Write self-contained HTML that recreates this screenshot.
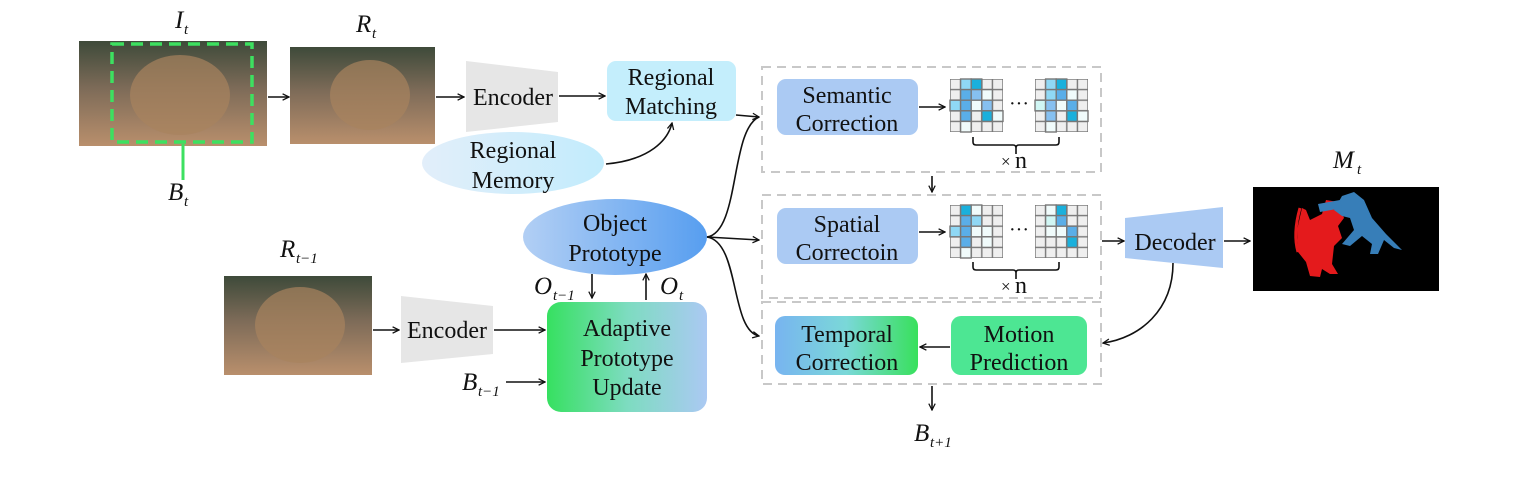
<!DOCTYPE html>
<html><head><meta charset="utf-8"><style>
html,body{margin:0;padding:0;background:#fff;}
svg{display:block;}
text{font-family:"Liberation Serif",serif;fill:#111;}
</style></head><body>
<svg width="1518" height="477" viewBox="0 0 1518 477" xmlns="http://www.w3.org/2000/svg">
<defs>
<marker id="ah" viewBox="0 0 10 10" refX="9" refY="5" markerWidth="8" markerHeight="8" orient="auto-start-reverse" markerUnits="userSpaceOnUse"><path d="M1,1 L9,5 L1,9" fill="none" stroke="#111" stroke-width="1.6"/></marker>
<linearGradient id="img" x1="0" y1="0" x2="0" y2="1"><stop offset="0" stop-color="#3e4a3a"/><stop offset="0.45" stop-color="#7d6b58"/><stop offset="1" stop-color="#b98f6c"/></linearGradient>
<linearGradient id="mem" x1="0" x2="1"><stop offset="0" stop-color="#e2eefa"/><stop offset="1" stop-color="#c2ecfc"/></linearGradient>
<linearGradient id="obj" x1="0" x2="1"><stop offset="0" stop-color="#b2cff4"/><stop offset="1" stop-color="#579ef0"/></linearGradient>
<linearGradient id="apu" x1="0" x2="1"><stop offset="0" stop-color="#36e060"/><stop offset="0.5" stop-color="#7ddcc0"/><stop offset="1" stop-color="#abc9f3"/></linearGradient>
<linearGradient id="tmp" x1="0" x2="1"><stop offset="0" stop-color="#78b4f0"/><stop offset="0.5" stop-color="#7ad8d8"/><stop offset="1" stop-color="#38e05c"/></linearGradient>
<pattern id="cell" x="0" y="0" width="10.6" height="10.6" patternUnits="userSpaceOnUse"><rect width="10.6" height="10.6" fill="#efefef" stroke="#777" stroke-width="1.4"/></pattern>
</defs>

<!-- I_t -->
<text x="175" y="28" font-size="25" font-style="italic">I</text><text x="184" y="34" font-size="15" font-style="italic">t</text>
<rect x="79" y="41" width="188" height="105" fill="url(#img)"/>
<ellipse cx="180" cy="95" rx="50" ry="40" fill="#a8835e" opacity="0.7"/>
<rect x="112" y="44" width="140" height="98" fill="none" stroke="#3de060" stroke-width="3.5" stroke-dasharray="12,7"/>
<line x1="183" y1="144" x2="183" y2="180" stroke="#3de060" stroke-width="3"/>
<text x="168" y="200" font-size="25" font-style="italic">B</text><text x="184" y="206" font-size="15" font-style="italic">t</text>
<line x1="268" y1="97" x2="289" y2="97" stroke="#111" stroke-width="1.6" marker-end="url(#ah)"/>

<!-- R_t -->
<text x="356" y="32" font-size="25" font-style="italic">R</text><text x="372" y="38" font-size="15" font-style="italic">t</text>
<rect x="290" y="47" width="145" height="97" fill="url(#img)"/>
<ellipse cx="370" cy="95" rx="40" ry="35" fill="#a8835e" opacity="0.7"/>
<line x1="436" y1="97" x2="464" y2="97" stroke="#111" stroke-width="1.6" marker-end="url(#ah)"/>

<!-- Encoder 1 -->
<polygon points="466,61 558,72 558,122 466,132" fill="#e6e6e6"/>
<text x="513" y="105" font-size="24" text-anchor="middle">Encoder</text>
<line x1="559" y1="96" x2="605" y2="96" stroke="#111" stroke-width="1.6" marker-end="url(#ah)"/>

<!-- Regional Matching -->
<rect x="607" y="61" width="129" height="60" rx="9" fill="#c4eefc"/>
<text x="671" y="85" font-size="24" text-anchor="middle">Regional</text>
<text x="671" y="114" font-size="24" text-anchor="middle">Matching</text>

<!-- Regional Memory -->
<ellipse cx="513" cy="163" rx="91" ry="31" fill="url(#mem)"/>
<text x="513" y="158" font-size="24" text-anchor="middle">Regional</text>
<text x="513" y="188" font-size="24" text-anchor="middle">Memory</text>
<path d="M606,164 C650,160 668,140 672,123" fill="none" stroke="#111" stroke-width="1.6" marker-end="url(#ah)"/>

<!-- Object Prototype -->
<ellipse cx="615" cy="237" rx="92" ry="38" fill="url(#obj)"/>
<text x="615" y="231" font-size="24" text-anchor="middle">Object</text>
<text x="615" y="261" font-size="24" text-anchor="middle">Prototype</text>

<text x="534" y="294" font-size="25" font-style="italic">O</text><text x="553" y="300" font-size="15" font-style="italic">t−1</text>
<line x1="592" y1="274" x2="592" y2="298" stroke="#111" stroke-width="1.6" marker-end="url(#ah)"/>
<line x1="646" y1="300" x2="646" y2="274" stroke="#111" stroke-width="1.6" marker-end="url(#ah)"/>
<text x="660" y="294" font-size="25" font-style="italic">O</text><text x="679" y="300" font-size="15" font-style="italic">t</text>

<!-- Adaptive Prototype Update -->
<rect x="547" y="302" width="160" height="110" rx="14" fill="url(#apu)"/>
<text x="627" y="336" font-size="24" text-anchor="middle">Adaptive</text>
<text x="627" y="366" font-size="24" text-anchor="middle">Prototype</text>
<text x="627" y="395" font-size="24" text-anchor="middle">Update</text>

<!-- R_t-1 -->
<text x="280" y="257" font-size="25" font-style="italic">R</text><text x="296" y="263" font-size="15" font-style="italic">t−1</text>
<rect x="224" y="276" width="148" height="99" fill="url(#img)"/>
<ellipse cx="300" cy="325" rx="45" ry="38" fill="#a8835e" opacity="0.7"/>
<line x1="373" y1="330" x2="399" y2="330" stroke="#111" stroke-width="1.6" marker-end="url(#ah)"/>
<polygon points="401,296 493,306 493,354 401,363" fill="#e6e6e6"/>
<text x="447" y="338" font-size="24" text-anchor="middle">Encoder</text>
<line x1="494" y1="330" x2="545" y2="330" stroke="#111" stroke-width="1.6" marker-end="url(#ah)"/>
<text x="462" y="390" font-size="25" font-style="italic">B</text><text x="478" y="396" font-size="15" font-style="italic">t−1</text>
<line x1="506" y1="382" x2="545" y2="382" stroke="#111" stroke-width="1.6" marker-end="url(#ah)"/>

<!-- connectors -->
<line x1="736" y1="115" x2="759" y2="117" stroke="#111" stroke-width="1.6" marker-end="url(#ah)"/>
<path d="M707,237 C740,232 730,130 759,117" fill="none" stroke="#111" stroke-width="1.6"/>
<line x1="707" y1="237" x2="759" y2="240" stroke="#111" stroke-width="1.6" marker-end="url(#ah)"/>
<path d="M707,237 C740,242 730,330 759,336" fill="none" stroke="#111" stroke-width="1.6" marker-end="url(#ah)"/>

<!-- dashed containers -->
<rect x="762" y="67" width="339" height="105" fill="none" stroke="#c8c8c8" stroke-width="2" stroke-dasharray="9,6"/>
<rect x="762" y="195" width="339" height="103" fill="none" stroke="#c8c8c8" stroke-width="2" stroke-dasharray="9,6"/>
<rect x="762" y="302" width="339" height="82" fill="none" stroke="#c8c8c8" stroke-width="2" stroke-dasharray="9,6"/>

<!-- Semantic -->
<rect x="777" y="79" width="141" height="56" rx="9" fill="#abcaf3"/>
<text x="847" y="103" font-size="24" text-anchor="middle">Semantic</text>
<text x="847" y="131" font-size="24" text-anchor="middle">Correction</text>
<line x1="919" y1="107" x2="945" y2="107" stroke="#111" stroke-width="1.6" marker-end="url(#ah)"/>

<g transform="translate(950,79)">
<rect width="53" height="53" fill="url(#cell)"/>
<g stroke="#777" stroke-width="1.4">
<rect x="10.6" y="0" width="10.6" height="10.6" fill="#8fd8f5"/><rect x="21.2" y="0" width="10.6" height="10.6" fill="#1ab0dc"/>
<rect x="10.6" y="10.6" width="10.6" height="10.6" fill="#5aaee8"/><rect x="21.2" y="10.6" width="10.6" height="10.6" fill="#86c0f0"/><rect x="31.8" y="10.6" width="10.6" height="10.6" fill="#f0fbfb"/>
<rect x="0" y="21.2" width="10.6" height="10.6" fill="#8fd8f5"/><rect x="10.6" y="21.2" width="10.6" height="10.6" fill="#5aaee8"/><rect x="21.2" y="21.2" width="10.6" height="10.6" fill="#f0fbfb"/><rect x="31.8" y="21.2" width="10.6" height="10.6" fill="#86c0f0"/>
<rect x="10.6" y="31.8" width="10.6" height="10.6" fill="#5aaee8"/><rect x="31.8" y="31.8" width="10.6" height="10.6" fill="#1ab0dc"/><rect x="42.4" y="31.8" width="10.6" height="10.6" fill="#f0fbfb"/>
<rect x="10.6" y="42.4" width="10.6" height="10.6" fill="#f0fbfb"/>
</g></g>
<text x="1019" y="110" font-size="20" text-anchor="middle">···</text>
<g transform="translate(1035,79)">
<rect width="53" height="53" fill="url(#cell)"/>
<g stroke="#777" stroke-width="1.4">
<rect x="10.6" y="0" width="10.6" height="10.6" fill="#8fd8f5"/><rect x="21.2" y="0" width="10.6" height="10.6" fill="#1ab0dc"/>
<rect x="10.6" y="10.6" width="10.6" height="10.6" fill="#8fd8f5"/><rect x="21.2" y="10.6" width="10.6" height="10.6" fill="#5aaee8"/><rect x="31.8" y="10.6" width="10.6" height="10.6" fill="#f0fbfb"/>
<rect x="0" y="21.2" width="10.6" height="10.6" fill="#d0f6f4"/><rect x="10.6" y="21.2" width="10.6" height="10.6" fill="#86c0f0"/><rect x="21.2" y="21.2" width="10.6" height="10.6" fill="#f0fbfb"/><rect x="31.8" y="21.2" width="10.6" height="10.6" fill="#5aaee8"/>
<rect x="10.6" y="31.8" width="10.6" height="10.6" fill="#86c0f0"/><rect x="31.8" y="31.8" width="10.6" height="10.6" fill="#1ab0dc"/><rect x="42.4" y="31.8" width="10.6" height="10.6" fill="#f0fbfb"/>
<rect x="10.6" y="42.4" width="10.6" height="10.6" fill="#f0fbfb"/>
</g></g>
<path d="M973,137 v5 q0,3 3,3 h37 q3,0 3,3 v6 M1016,148 q0,-3 3,-3 h37 q3,0 3,-3 v-5" fill="none" stroke="#111" stroke-width="1.6"/>
<text x="1001" y="167" font-size="17">×</text><text x="1015" y="168" font-size="24">n</text>

<line x1="932" y1="176" x2="932" y2="192" stroke="#111" stroke-width="1.6" marker-end="url(#ah)"/>

<!-- Spatial -->
<rect x="777" y="208" width="141" height="56" rx="9" fill="#abcaf3"/>
<text x="847" y="232" font-size="24" text-anchor="middle">Spatial</text>
<text x="847" y="260" font-size="24" text-anchor="middle">Correctoin</text>
<line x1="919" y1="232" x2="945" y2="232" stroke="#111" stroke-width="1.6" marker-end="url(#ah)"/>
<g transform="translate(950,205)">
<rect width="53" height="53" fill="url(#cell)"/>
<g stroke="#777" stroke-width="1.4">
<rect x="10.6" y="0" width="10.6" height="10.6" fill="#1ab0dc"/><rect x="21.2" y="0" width="10.6" height="10.6" fill="#f0fbfb"/>
<rect x="10.6" y="10.6" width="10.6" height="10.6" fill="#5aaee8"/><rect x="21.2" y="10.6" width="10.6" height="10.6" fill="#8fd8f5"/>
<rect x="0" y="21.2" width="10.6" height="10.6" fill="#8fd8f5"/><rect x="10.6" y="21.2" width="10.6" height="10.6" fill="#5aaee8"/><rect x="21.2" y="21.2" width="10.6" height="10.6" fill="#f0fbfb"/><rect x="31.8" y="21.2" width="10.6" height="10.6" fill="#f0fbfb"/>
<rect x="10.6" y="31.8" width="10.6" height="10.6" fill="#5aaee8"/><rect x="31.8" y="31.8" width="10.6" height="10.6" fill="#f0fbfb"/>
<rect x="10.6" y="42.4" width="10.6" height="10.6" fill="#f0fbfb"/>
</g></g>
<text x="1019" y="236" font-size="20" text-anchor="middle">···</text>
<g transform="translate(1035,205)">
<rect width="53" height="53" fill="url(#cell)"/>
<g stroke="#777" stroke-width="1.4">
<rect x="10.6" y="0" width="10.6" height="10.6" fill="#f0fbfb"/><rect x="21.2" y="0" width="10.6" height="10.6" fill="#1ab0dc"/>
<rect x="10.6" y="10.6" width="10.6" height="10.6" fill="#d0f6f4"/><rect x="21.2" y="10.6" width="10.6" height="10.6" fill="#5aaee8"/>
<rect x="10.6" y="21.2" width="10.6" height="10.6" fill="#f0fbfb"/><rect x="21.2" y="21.2" width="10.6" height="10.6" fill="#f0fbfb"/><rect x="31.8" y="21.2" width="10.6" height="10.6" fill="#5aaee8"/>
<rect x="31.8" y="31.8" width="10.6" height="10.6" fill="#1ab0dc"/>
</g></g>
<path d="M973,262 v5 q0,3 3,3 h37 q3,0 3,3 v6 M1016,273 q0,-3 3,-3 h37 q3,0 3,-3 v-5" fill="none" stroke="#111" stroke-width="1.6"/>
<text x="1001" y="292" font-size="17">×</text><text x="1015" y="293" font-size="24">n</text>

<!-- Temporal / Motion -->
<rect x="775" y="316" width="143" height="59" rx="10" fill="url(#tmp)"/>
<text x="847" y="342" font-size="24" text-anchor="middle">Temporal</text>
<text x="847" y="370" font-size="24" text-anchor="middle">Correction</text>
<rect x="951" y="316" width="136" height="59" rx="10" fill="#4de693"/>
<text x="1019" y="342" font-size="24" text-anchor="middle">Motion</text>
<text x="1019" y="370" font-size="24" text-anchor="middle">Prediction</text>
<line x1="950" y1="347" x2="920" y2="347" stroke="#111" stroke-width="1.6" marker-end="url(#ah)"/>
<line x1="932" y1="386" x2="932" y2="410" stroke="#111" stroke-width="1.6" marker-end="url(#ah)"/>
<text x="914" y="441" font-size="25" font-style="italic">B</text><text x="930" y="447" font-size="15" font-style="italic">t+1</text>

<!-- Decoder -->
<line x1="1102" y1="241" x2="1124" y2="241" stroke="#111" stroke-width="1.6" marker-end="url(#ah)"/>
<polygon points="1125,218 1223,207 1223,268 1125,258" fill="#abcaf3"/>
<text x="1175" y="250" font-size="24" text-anchor="middle">Decoder</text>
<line x1="1224" y1="241" x2="1250" y2="241" stroke="#111" stroke-width="1.6" marker-end="url(#ah)"/>
<path d="M1173,263 C1173,310 1140,338 1103,343" fill="none" stroke="#111" stroke-width="1.6" marker-end="url(#ah)"/>

<!-- M_t -->
<text x="1333" y="168" font-size="25" font-style="italic">M</text><text x="1357" y="174" font-size="15" font-style="italic">t</text>
<rect x="1253" y="187" width="186" height="104" fill="#000"/>
<path d="M1302,208 l-5,22 l1,22 l8,10 l4,14 l10,1 l2,-8 l8,5 l8,0 l-6,-10 l2,-18 l8,-8 l-4,-12 l6,-8 l-6,-16 l-12,-2 l-4,14 l-12,6 l-4,-10z" fill="#e41a1c"/>
<path d="M1300,208 c-4,14 -6,30 -2,44" fill="none" stroke="#e41a1c" stroke-width="3"/>
<path d="M1342,196 l12,-4 l10,8 l8,18 l14,16 l16,16 l-8,-2 l-10,-8 l-6,14 l-8,0 l2,-10 l-10,-8 l-12,10 l-8,-2 l12,-14 l-4,-12 l-8,-2 l-8,-6z" fill="#377eb8"/>
<path d="M1318,204 l22,-4 l2,8 l-22,4z" fill="#377eb8"/>
</svg>
</body></html>
